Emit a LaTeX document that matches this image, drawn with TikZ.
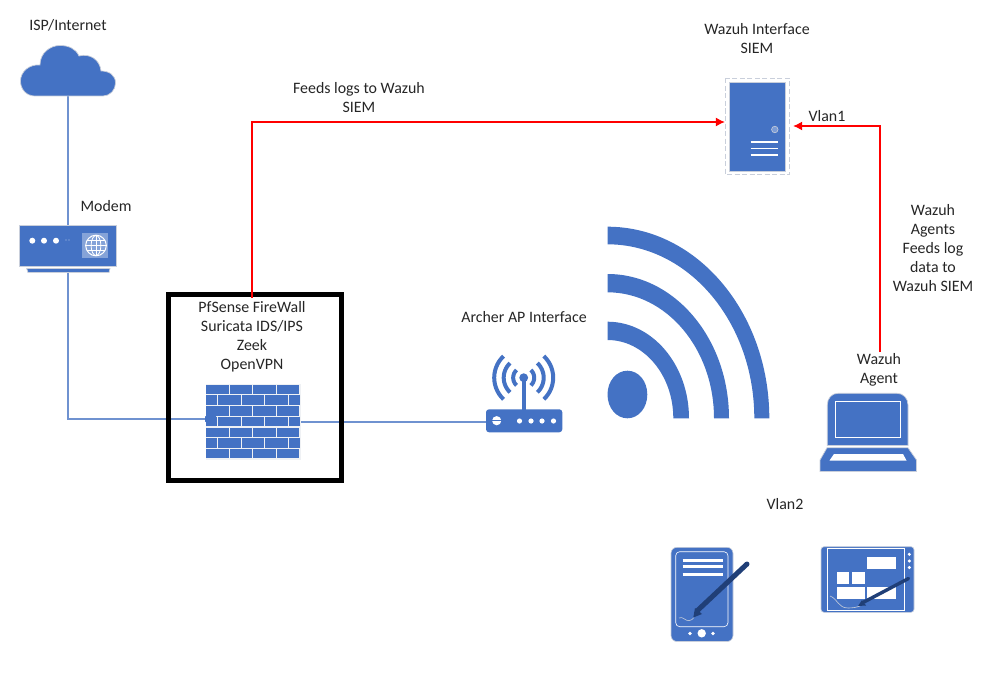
\documentclass[tikz,border=0pt]{standalone}
\usepackage{fontspec}
\setmainfont{Carlito}
\definecolor{iconblue}{HTML}{4472C4}
\definecolor{linkblue}{HTML}{6F92D0}
\definecolor{edge}{HTML}{C9CFDB}
\definecolor{darkpen}{HTML}{203F77}
\definecolor{txt}{HTML}{262626}
\usetikzlibrary{arrows.meta}
\newcommand{\wifiring}[6]{% cx cy rxo ryo rxi ryi
 \fill[iconblue] ({#1},{#2-#4}) .. controls ({#1+0.5523*#3},{#2-#4}) and ({#1+#3},{#2-0.5523*#4}) .. ({#1+#3},{#2})
 -- ({#1+#5},{#2}) .. controls ({#1+#5},{#2-0.5523*#6}) and ({#1+0.5523*#5},{#2-#6}) .. ({#1},{#2-#6}) -- cycle;}
\newcommand{\apwave}[1]{%
 \draw[iconblue,line width=4pt] plot[smooth,domain=133:227,samples=15] ({523.7+#1*cos(\x)},{377.7+#1*sin(\x)});
 \draw[iconblue,line width=4pt] plot[smooth,domain=-47:47,samples=15] ({523.7+#1*cos(\x)},{377.7+#1*sin(\x)});}
\tikzset{
 lbl/.style={font=\fontsize{15.9}{19}\selectfont,text=txt,align=center,inner sep=0pt},
 anchorpt/.style={inner sep=0pt,minimum size=0pt},
 link/.style={draw=linkblue,line width=1.4pt},
 feed/.style={draw=red,line width=1.1pt,-{Latex[length=9pt,width=9pt]}},
 icon/.style={fill=iconblue,draw=edge,line width=.7pt},
 wline/.style={draw=white,line width=1.6pt}
}
\begin{document}
\begin{tikzpicture}[x=1pt,y=-1pt]
\useasboundingbox (0,0) rectangle (986,677);
\fill[white] (0,0) rectangle (986,677);
% named points
\node[anchorpt] (cloud) at (68,96) {};
\node[anchorpt] (modemtop) at (68,225) {};
\node[anchorpt] (modembot) at (68,272) {};
\node[anchorpt] (fwleft) at (206,419) {};
\node[anchorpt] (fwright) at (301,422) {};
\node[anchorpt] (ap) at (486,422) {};
\coordinate (fwtop) at (252,298);
\node[anchorpt] (srvleft) at (725,122) {};
\node[anchorpt] (srvright) at (793,126) {};
\coordinate (laptop) at (880,352);
% blue connectors
\draw[link] (cloud) -- (modemtop);
\draw[link] (modembot) |- (fwleft);
\draw[link,line width=1.2pt] (fwright) -- (ap);
% cloud icon
\path[icon] (35,96) .. controls (26,96) and (20.5,89) .. (20.5,81)
 .. controls (20.5,72) and (29,64) .. (40,65)
 .. controls (40,53) and (50,45.5) .. (60,45.5)
 .. controls (69,45.5) and (76,49) .. (79,56)
 .. controls (90,53) and (100,60) .. (101,71)
 .. controls (109,71) and (115.5,75) .. (115.5,83)
 .. controls (115.5,90) and (110,96) .. (103,96) -- cycle;
% modem
\path[icon] (19.5,225) rectangle (116,266.5);
\path[icon] (26.7,268.5) -- (110,268.5) -- (109,272.5) -- (28,272.5) -- cycle;
\foreach \x in {32.3,44,56}{\fill[white] (\x,240.7) circle (3);}
\fill[white,opacity=.6] (66,240) circle (.6) (69,240) circle (.6);
\fill[white,opacity=.35] (82.3,233.3) rectangle (108.3,257.7);
\begin{scope}[shift={(96,245.5)}]
 \draw[white,line width=1pt] (0,0) circle (10.3);
 \draw[white,line width=.8pt] (-4.9,0) .. controls (-4.9,-6) and (-2.5,-10) .. (0,-10) .. controls (2.5,-10) and (4.9,-6) .. (4.9,0) .. controls (4.9,6) and (2.5,10) .. (0,10) .. controls (-2.5,10) and (-4.9,6) .. (-4.9,0) -- cycle;
 \draw[white,line width=.8pt] (0,-10) -- (0,10) (-10,0) -- (10,0) (-8.8,-5) -- (8.8,-5) (-8.8,5) -- (8.8,5);
\end{scope}
% firewall box
\draw[black,line width=4.6pt] (168.4,294.5) rectangle (341.7,480.5);
\fill[edge!30!white] (205.5,384) rectangle (300.8,459.8);
\foreach \r in {0,2,4,6}{
 \foreach \c in {0,1,2,3}{
  \fill[iconblue] ({206.3+\c*23.5},{384.7+\r*10.7}) rectangle ++(22.3,9.5);
 }
}
\foreach \r in {1,3,5}{
 \fill[iconblue] (206.3,{384.7+\r*10.7}) rectangle ++(10.7,9.5);
 \foreach \c in {0,1,2}{
  \fill[iconblue] ({218.3+\c*23.5},{384.7+\r*10.7}) rectangle ++(22.3,9.5);
 }
 \fill[iconblue] (288.8,{384.7+\r*10.7}) rectangle ++(11.2,9.5);
}
\fill[iconblue] (205,416.5) -- (209,414.5) -- (216,414.5) -- (216,424) -- (209,424) -- (205,421.5) -- cycle;
% red connectors
\draw[feed] (fwtop) |- (srvleft);
\draw[feed] (laptop) |- (srvright);
% AP icon
\path[fill=iconblue,rounded corners=3pt] (486,409.3) rectangle (562.3,432.3);
\draw[iconblue,line width=3.6pt] (523.7,378) -- (523.7,410);
\fill[iconblue] (523.7,377.7) circle (4.4);
\apwave{10.5}\apwave{20}\apwave{29.5}
\fill[white] (496.7,420.7) circle (4.6);
\fill[iconblue] (491,420.2) rectangle (503,421.2);
\foreach \x in {519.5,531,542,553.5}{\fill[white] (\x,421) circle (2.6);}
% big wifi
\wifiring{607.5}{418.3}{161.8}{191.6}{146.8}{174}
\wifiring{607.5}{418.3}{121.5}{144.3}{106.5}{126}
\wifiring{607.5}{418.3}{81.5}{96.6}{65.8}{78.3}
\fill[iconblue] (607.5,394.5) .. controls (607.5,381) and (616.5,370.7) .. (627.4,370.7) .. controls (638.5,370.7) and (647.3,381) .. (647.3,394.5) .. controls (647.3,408) and (638.5,418.3) .. (627.4,418.3) .. controls (616.5,418.3) and (607.5,408) .. (607.5,394.5) -- cycle;
% server
\draw[edge,line width=.8pt,dash pattern=on 5pt off 2.5pt] (725.5,78.5) rectangle (789,174.5);
\path[icon] (729,82) rectangle (785.5,171);
\fill[edge] (774.8,129.5) circle (3.6);
\fill[iconblue!70!white] (774.8,129.5) circle (2.8);
\foreach \y in {141.7,148.3,155}{\draw[wline] (750.7,\y) -- (778,\y);}
% laptop
\fill[iconblue,draw=edge,line width=.7pt] (827.3,445.5) -- (827.3,405) .. controls (827.3,398) and (832,393.3) .. (838,393.3) -- (897,393.3) .. controls (903,393.3) and (908,398) .. (908,405) -- (908,445.5) -- cycle;
\draw[white,line width=.8pt] (835.3,400.9) rectangle (900.7,437.3);
\path[icon] (827,447.8) -- (908,447.8) -- (916.5,460) -- (916.5,471.5) -- (820,471.5) -- (820,460) -- cycle;
\fill[white] (834,454) -- (903,454) -- (906.5,460.5) -- (829.5,460.5) -- cycle;
% tablet 1
\path[fill=iconblue,draw=edge,line width=.6pt,rounded corners=6pt] (671,547.3) rectangle (733,641.5);
\draw[white,line width=.6pt,rounded corners=4pt] (675.7,551.7) rectangle (728,626.7);
\foreach \y in {560,566.7,574}{\draw[white,line width=3pt] (682.7,\y) -- (723,\y);}
\fill[white] (701.7,633.3) circle (4.2);
\fill[white] (690,633.5) circle (1.8) (713,633.5) circle (1.8);
\draw[edge,line width=.6pt] (679,618) .. controls (683,616) and (685,621) .. (689,620.7) .. controls (691,620.5) and (693,619) .. (694,617.5);
\draw[draw=darkpen,line width=5pt,line cap=round] (698,610) -- (747,564);
\fill[darkpen] (693.3,617.5) -- (695,608) -- (702,614) -- cycle;
% tablet 2
\path[fill=iconblue,draw=edge,line width=.6pt,rounded corners=3pt] (821,546.7) rectangle (914,612.3);
\draw[white,line width=.8pt] (827.4,548.2) rectangle (904,610.8);
\fill[white] (867.3,557.3) rectangle (896,569);
\fill[white] (836.7,571.7) rectangle (849.3,584.3);
\fill[white] (851.7,571.7) rectangle (865,584.3);
\fill[white] (836.7,586.7) rectangle (865,599);
\fill[white] (867.3,586.7) rectangle (896,599);
\foreach \y in {554.3,561,567.5}{\fill[white] (909.3,\y) circle (1.7);}
\draw[edge,line width=.6pt] (830,596) .. controls (838,599) and (838,608) .. (848,608) .. controls (852,608) and (856,607.5) .. (860,606);
\draw[draw=darkpen,line width=3.4pt,line cap=round] (864,602) -- (908.5,578.5);
\fill[darkpen] (858,606) -- (862,600) -- (866,605.5) -- cycle;
% labels
\node[lbl] (lisp) at (68,25.5) {ISP/Internet};
\node[lbl] (lmodem) at (106,206) {Modem};
\node[lbl] (lfw) at (252,337) {PfSense FireWall\\Suricata IDS/IPS\\Zeek\\OpenVPN};
\node[lbl] (lfeed) at (359,97.5) {Feeds logs to Wazuh\\SIEM};
\node[lbl] (lsiem) at (757,38.5) {Wazuh Interface\\SIEM};
\node[lbl] (lvlan1) at (827,116) {Vlan1};
\node[lbl] (lagents) at (933,248.5) {Wazuh\\Agents\\Feeds log\\data to\\Wazuh SIEM};
\node[lbl] (lagent) at (879,369.5) {Wazuh\\Agent};
\node[lbl] (lap) at (524,317) {Archer AP Interface};
\node[lbl] (lvlan2) at (785,504) {Vlan2};
\end{tikzpicture}
\end{document}
